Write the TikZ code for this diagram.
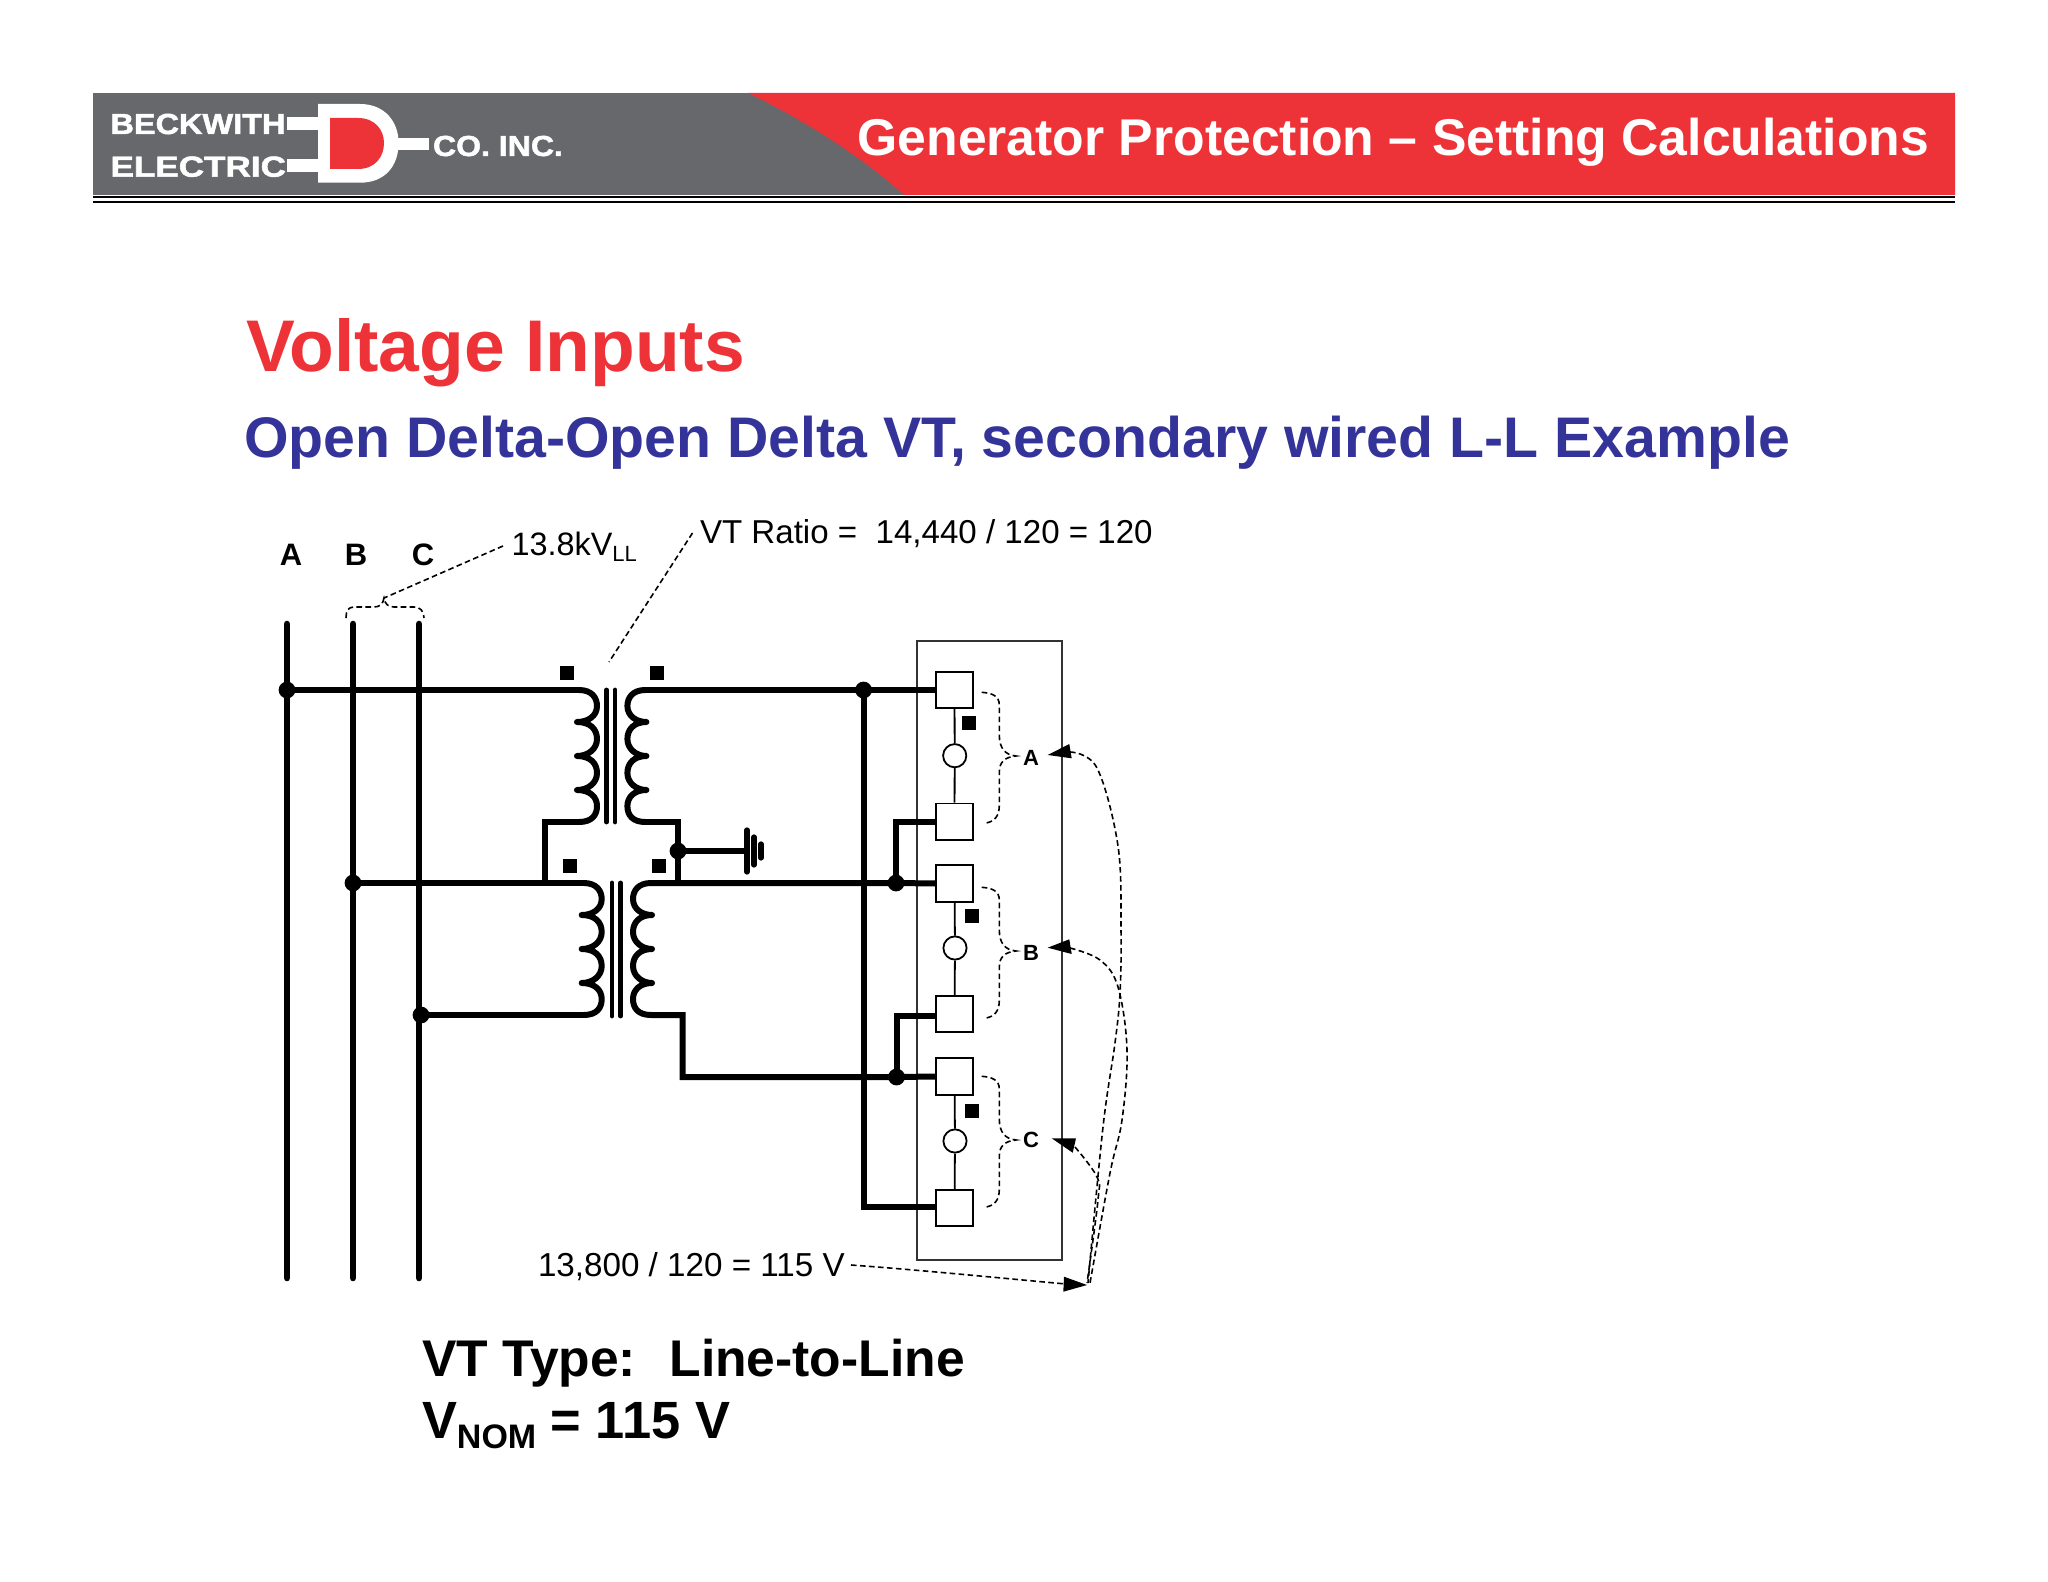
\documentclass[tikz,border=0pt]{standalone}
\usepackage{fontspec}
\setmainfont{Liberation Sans}
\newfontfamily\logofont[BoldFeatures={FakeBold=1.6}]{Liberation Sans}
\definecolor{hdrgrey}{HTML}{66686C}
\definecolor{hdrred}{HTML}{EE3338}
\definecolor{titleblue}{HTML}{333399}
\newcommand{\fs}[1]{\fontsize{#1}{#1}\selectfont}
\tikzset{
 txt/.style={anchor=base west,inner sep=0pt,outer sep=0pt},
 ctxt/.style={anchor=base,inner sep=0pt,outer sep=0pt,font=\bfseries\fs{11}},
 bus/.style={line width=3.3pt,line cap=round},
 wire/.style={line width=3pt,line join=miter},
 thin wire/.style={line width=0.9pt},
 lead/.style={line width=0.8pt,dash pattern=on 2.8pt off 1.7pt},
 term/.style={draw,line width=0.9pt,fill=white,minimum width=18.4pt,minimum height=18.2pt,inner sep=0pt},
 meter/.style={draw,circle,line width=0.9pt,fill=white,minimum size=11.6pt,inner sep=0pt},
 polarity/.style={fill=black,minimum size=7pt,inner sep=0pt},
 jdot/.style={fill=black,circle,minimum size=8.4pt,inner sep=0pt},
 head/.style={fill=black},
 coil/.style={line width=3pt,line join=round},
 core/.style={line width=2.4pt,line cap=round},
 primary/.pic={
  \draw[coil] (-18,0) .. controls (-5,0) and (0,8) .. (0,16) .. controls (0,26) and (-9,32) .. (-20,32)
   .. controls (-7,32) and (0,39) .. (0,49) .. controls (0,59) and (-9,66) .. (-20,66)
   .. controls (-7,66) and (0,73) .. (0,83) .. controls (0,93) and (-9,100) .. (-20,100)
   .. controls (-7,100) and (0,107) .. (0,116) .. controls (0,125) and (-5,132) .. (-18,132);
 },
 secondary/.pic={
  \draw[coil] (18,0) .. controls (5,0) and (0,8) .. (0,16) .. controls (0,26) and (9,32) .. (19,32)
   .. controls (7,32) and (0,39) .. (0,49) .. controls (0,59) and (9,66) .. (19,66)
   .. controls (7,66) and (0,73) .. (0,83) .. controls (0,93) and (9,100) .. (19,100)
   .. controls (7,100) and (0,107) .. (0,116) .. controls (0,125) and (5,132) .. (18,132);
 }
}
\begin{document}
\begin{tikzpicture}[x=0.5pt,y=-0.5pt]
\useasboundingbox (0,0) rectangle (2048,1582);
\fill[white] (0,0) rectangle (2048,1582);
% header
\fill[hdrgrey] (93,93) rectangle (1955,195);
\fill[hdrred] (748,93) .. controls (800,118) and (860,155) .. (904,195) -- (1955,195) -- (1955,93) -- cycle;
\draw[line width=0.8pt] (93,197) -- (1955,197);
\draw[line width=1.3pt] (93,202) -- (1955,202);
% logo
\fill[white] (318,104) -- (360,104) .. controls (385,104) and (398.6,122) .. (398.6,143) .. controls (398.6,166) and (385,182.7) .. (360,182.7) -- (318,182.7) -- cycle;
\fill[hdrred] (330,118) -- (358,118) .. controls (375,118) and (384,130) .. (384,143) .. controls (384,157) and (375,169) .. (358,169) -- (330,169) -- cycle;
\fill[white] (286.7,116.7) rectangle (320,130);
\fill[white] (286.7,159) rectangle (320,171.7);
\fill[white] (397,138) rectangle (429,150);
\node[txt,text=white] (logoa) at (110.5,134) {\logofont\bfseries\fs{14.5}\scalebox{1.12}[1]{BECKWITH}};
\node[txt,text=white] (logob) at (110.5,176.7) {\logofont\bfseries\fs{14.5}\scalebox{1.21}[1]{ELECTRIC}};
\node[txt,text=white] (logoc) at (433,156) {\logofont\bfseries\fs{14.5}\scalebox{1.105}[1]{CO. INC.}};
\node[txt,text=white] (hdr) at (857.5,155.7) {\bfseries\fs{25.85}Generator Protection – Setting Calculations};
% titles
\node[txt,text=hdrred] (t1) at (246,371.5) {\bfseries\fs{36.6}Voltage Inputs};
\node[txt,text=titleblue] (t2) at (244,457.5) {\bfseries\fs{28.62}Open Delta-Open Delta VT, secondary wired L-L Example};
% labels
\node[anchor=base,inner sep=0pt,font=\bfseries\fs{15.5}] (la) at (291,566) {A};
\node[anchor=base,inner sep=0pt,font=\bfseries\fs{15.5}] (lb) at (356,566) {B};
\node[anchor=base,inner sep=0pt,font=\bfseries\fs{15.5}] (lc) at (423,566) {C};
\node[txt] (kv) at (511.5,556) {\fs{16.2}13.8kV\raisebox{-2.8pt}{\fs{11}LL}};
\node[txt] (ratio) at (700,543.5) {\fs{16.55}VT Ratio =~ 14,440 / 120 = 120};
\node[txt] (vsec) at (538,1276) {\fs{16.6}13,800 / 120 = 115 V};
\node[txt] (vtype) at (422,1376.5) {\bfseries\fs{25.8}VT Type:~ Line-to-Line};
\node[txt] (vnom) at (422,1438.5) {\bfseries\fs{26.2}V\raisebox{-5pt}{\fs{17}NOM} = 115 V};
% outer box
\draw[line width=0.8pt,draw=black!80] (916.7,640.7) rectangle (1061.7,1260);
% buses
\coordinate (atop) at (287,624); \coordinate (abot) at (287,1278);
\coordinate (btop) at (353,624); \coordinate (bbot) at (353,1278);
\coordinate (ctop) at (419,624); \coordinate (cbot) at (419,1278);
\draw[bus] (atop) -- (abot);
\draw[bus] (btop) -- (bbot);
\draw[bus] (ctop) -- (cbot);
% junctions
\node[jdot] (ja) at (287,690) {};
\node[jdot] (jb) at (353,883) {};
\node[jdot] (jc) at (421,1015) {};
\node[jdot] (jg) at (678,851) {};
\node[jdot] (j1) at (863.5,690) {};
\node[jdot] (j2) at (896,883) {};
\node[jdot] (j3) at (896.5,1077) {};
% terminals
\node[term] (b1) at (954.5,690) {};
\node[term] (b2) at (954.5,821.6) {};
\node[term] (b3) at (954.5,883.5) {};
\node[term] (b4) at (954.5,1014) {};
\node[term] (b5) at (954.5,1076.5) {};
\node[term] (b6) at (954.5,1208) {};
\node[meter] (m1) at (954.7,755.7) {};
\node[meter] (m2) at (955,948) {};
\node[meter] (m3) at (955,1141) {};
\draw[thin wire] (b1) -- (m1) -- (b2);
\draw[thin wire] (b3) -- (m2) -- (b4);
\draw[thin wire] (b5) -- (m3) -- (b6);
\node[polarity] (p1) at (567,673) {};
\node[polarity] (p2) at (656.5,673) {};
\node[polarity] (p3) at (570,866) {};
\node[polarity] (p4) at (659,866) {};
\node[polarity] (p5) at (969.3,722.7) {};
\node[polarity] (p6) at (972,915.7) {};
\node[polarity] (p7) at (972,1110.7) {};
% transformers
\pic at (597,690) {primary};
\pic at (627.4,690) {secondary};
\pic at (601.7,883) {primary};
\pic at (633,883) {secondary};
\draw[core] (606.4,690) -- (606.4,822);
\draw[core] (615,690) -- (615,822);
\draw[core] (612,883) -- (612,1016);
\draw[core] (620.7,883) -- (620.7,1016);
% wiring
\coordinate (c1p) at (579,690);
\coordinate (c1s) at (645.4,690);
\coordinate (c2p) at (583.7,883);
\coordinate (c2s) at (651,883);
\draw[wire] (ja.center) -- (c1p);
\draw[wire] (c1s) -- (j1.center) -- (b1.west);
\draw[wire] (jb.center) -- (c2p);
\draw[wire] (c2s) -- (j2.center) -- (b3.west);
\draw[wire] (jc.center) -- (583.7,1015);
\draw[wire] (579,822) -- (545,822) -- (545,883);
\draw[wire] (645.4,822) -- (678,822) -- (678,883);
\draw[wire] (651,1015) -- (682.7,1015) -- (682.7,1077) -- (j3.center) -- (b5.west);
\draw[wire] (j1.center) -- (863.5,1207) -- (b6.west |- 863.5,1207);
\draw[wire] (b2.west) -- (896,821.6) -- (j2.center);
\draw[wire] (b4.west |- 896.5,1016) -- (896.5,1016) -- (j3.center);
% ground
\coordinate (g1) at (747,851);
\draw[wire] (jg.center) -- (g1);
\draw[line width=2.6pt,line cap=round] (747,830) -- (747,872);
\draw[line width=2.6pt,line cap=round] (754,837) -- (754,865);
\draw[line width=2.6pt,line cap=round] (761,844) -- (761,858);
% leaders
\draw[lead] (503,546) -- (384,598);
\draw[lead] (346,618) .. controls (346,611) and (348,607) .. (354,607) -- (374,607) .. controls (380,607) and (383,604) .. (384,598) .. controls (385,604) and (388,607) .. (394,607) -- (414,607) .. controls (420,607) and (424,611) .. (424,618);
\draw[lead] (692.5,533) -- (609,662);
% terminal braces
\foreach \o in {0,195,384}{
 \draw[lead,yshift=-\o*0.5pt] (981.7,692.3) .. controls (992,693) and (999.3,696) .. (999.3,705) -- (999.3,735) .. controls (999.3,748) and (1005,755) .. (1016,756) .. controls (1005,757) and (999.3,762) .. (999.3,772) -- (999.3,805) .. controls (999.3,817) and (994,822) .. (984.3,823.3);
}
\node[ctxt] (na) at (1031,765) {A};
\node[ctxt] (nb) at (1031,960) {B};
\node[ctxt] (nc) at (1031,1147) {C};
% meter arrows
\coordinate (hub) at (1087,1285);
\draw[lead] plot[smooth,tension=0.6] coordinates {(1070,752) (1097,768) (1118,846) (1121,930) (1120,993) (1115,1043) (1103,1127) (1088,1283)};
\draw[lead] plot[smooth,tension=0.6] coordinates {(1070,948) (1100,960) (1118,987) (1127,1050) (1122,1120) (1110,1173) (1090,1283)};
\draw[lead] plot[smooth,tension=0.6] coordinates {(1075,1147) (1097,1177) (1098,1200) (1087,1283)};
\draw[lead] (851,1265) .. controls (920,1270) and (1000,1278) .. (1066,1284);
\fill[head] (1047.7,755) -- (1069.3,744) -- (1071.7,758.3) -- cycle;
\fill[head] (1047.7,947.7) -- (1069.3,939.3) -- (1071.7,954) -- cycle;
\fill[head] (1051.7,1138.3) -- (1076,1138.3) -- (1072.7,1152.7) -- cycle;
\fill[head] (hub) -- (1064,1276.7) -- (1063.3,1291.7) -- cycle;
\end{tikzpicture}
\end{document}
